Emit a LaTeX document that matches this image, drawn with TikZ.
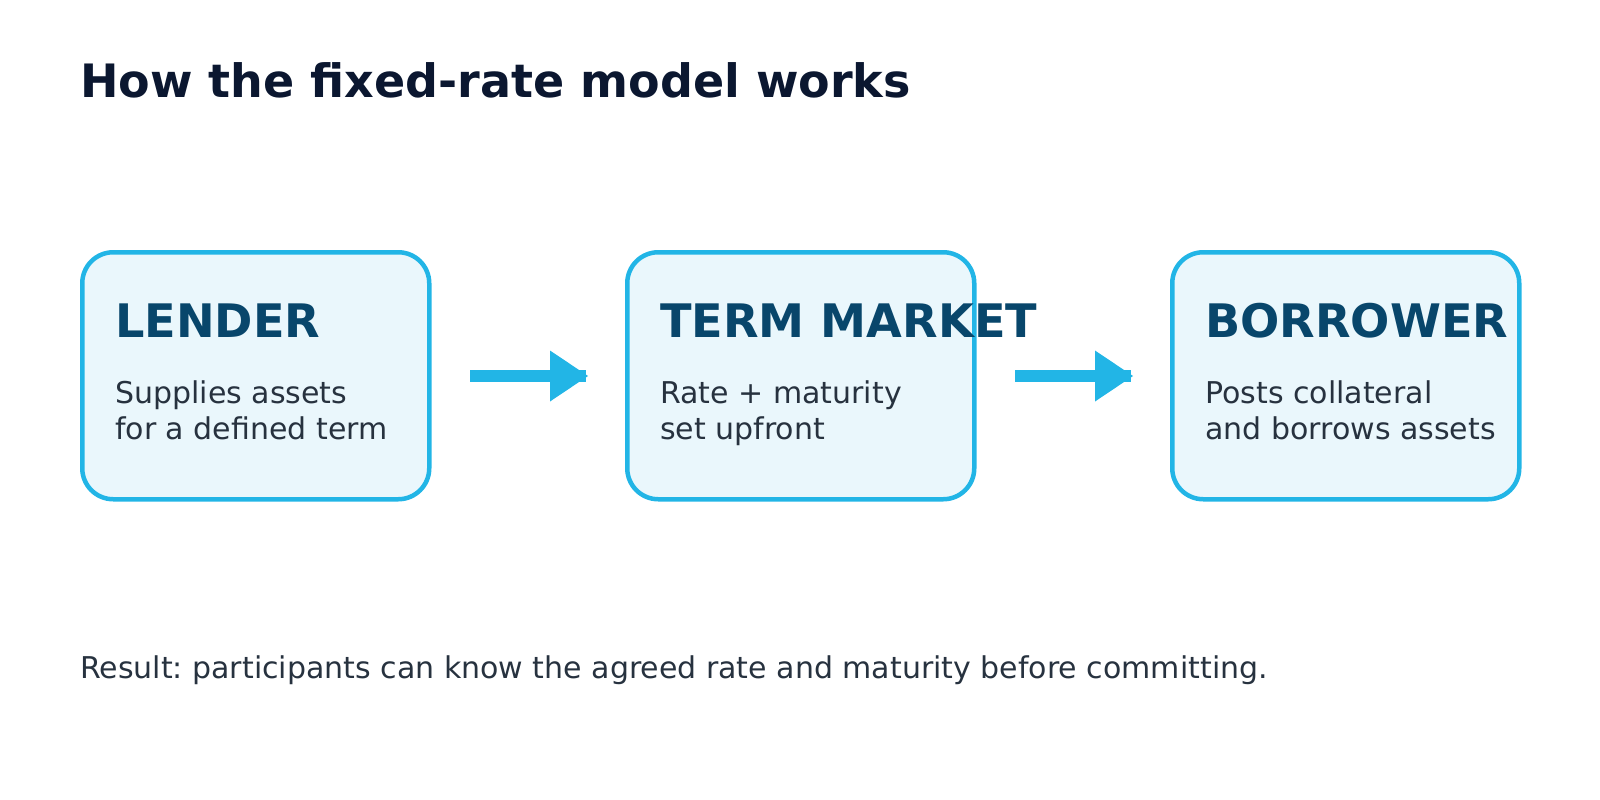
\documentclass[tikz,border=0pt]{standalone}
\usepackage{fontspec}
\setmainfont{DejaVu Sans}
\usetikzlibrary{calc}
\frenchspacing
\definecolor{bordc}{HTML}{22B5E6}
\definecolor{fillc}{HTML}{EAF7FC}
\definecolor{titlec}{HTML}{0B1730}
\definecolor{headc}{HTML}{08466B}
\definecolor{bodyc}{HTML}{27323F}
\tikzset{
  card/.style={draw=bordc, fill=fillc, line width=4.5pt, rounded corners=31pt,
    minimum width=347pt, minimum height=247pt, inner sep=0pt},
  cardhead/.style={anchor=base west, inner sep=0pt, text=headc, font=\fontsize{46.2}{54}\selectfont\bfseries},
  cardbody/.style={anchor=base west, inner sep=0pt, text=bodyc, font=\fontsize{30}{36}\selectfont},
  shaft/.style={draw=bordc, line width=12pt},
  headtri/.style={fill=bordc},
}
\begin{document}
\begin{tikzpicture}[x=1pt,y=-1pt]
\useasboundingbox (0,0) rectangle (1600,800);
\node[anchor=base west, inner sep=0pt, text=titlec, font=\fontsize{46}{54}\selectfont\bfseries] (title) at (80,97) {How the fixed-rate model works};

\foreach \n/\x in {c1/80, c2/625, c3/1170}{
  \node[card, anchor=north west] (\n) at (\x,250) {};
}
\node[cardhead] (h1) at (115,337) {LENDER};
\node[cardhead] (h2) at (660,337) {TERM MARKET};
\node[cardhead] (h3) at (1205,337) {BORROWER};

\node[cardbody] (b1a) at (115,403) {Supplies assets};
\node[cardbody] (b1b) at (115,439) {for a defined term};
\node[cardbody] (b2a) at (660,403) {Rate + maturity};
\node[cardbody] (b2b) at (660,439) {set upfront};
\node[cardbody] (b3a) at (1205,403) {Posts collateral};
\node[cardbody] (b3b) at (1205,439) {and borrows assets};

\coordinate (a1s) at (470,376);
\coordinate (a1e) at (586,376);
\coordinate (a2s) at (1015,376);
\coordinate (a2e) at (1131,376);
\foreach \s/\e in {a1s/a1e, a2s/a2e}{
  \draw[shaft] (\s) -- (\e);
  \fill[headtri] ($(\e)+(-36,-25.5)$) -- ($(\e)+(2,0)$) -- ($(\e)+(-36,25.5)$) -- cycle;
}

\node[anchor=base west, inner sep=0pt, text=bodyc, font=\fontsize{30}{36}\selectfont] (result) at (80,678) {Result: participants can know the agreed rate and maturity before committing.};
\end{tikzpicture}
\end{document}
